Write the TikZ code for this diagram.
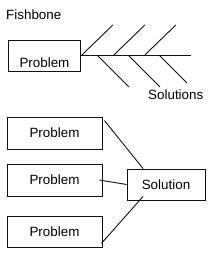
\documentclass[tikz,border=0pt]{standalone}
\usepackage{fontspec}
\setmainfont{Liberation Sans}
\usepackage{tikz}
\usetikzlibrary{calc}
\definecolor{BoneInk}{HTML}{111111}

\begin{document}
\begin{tikzpicture}[
    x=1pt, y=-1pt,
    font=\fontsize{13.4}{16}\selectfont,
    box/.style={
      draw=BoneInk,
      line width=0.9pt,
      inner sep=0pt,
      minimum width=95pt,
      minimum height=32pt,
    },
    bone/.style={
      draw=BoneInk,
      line width=0.9pt,
    },
  ]
    \useasboundingbox (0,0) rectangle (214,262);
    % fishbone
    \node[anchor=base west, inner sep=0pt] (title) at (6,20) {Fishbone};
    \node[
      draw=BoneInk, line width=0.9pt, inner sep=0pt,
      minimum width=72pt, text height=27pt, text depth=4pt,
      anchor=north west,
    ] (prob) at (8,40) {Problem};
    \draw[bone] (prob.east) -- ++(110,0) coordinate (tail);
    \foreach \dx in {0,32,63}
      \draw[bone] ([xshift=\dx pt]prob.east) -- ++(32,-31);
    \foreach \dx/\len in {17/31,48/31,79/27}
      \draw[bone] ([xshift=\dx pt]prob.east) -- ++(\len,\len);
    \node[anchor=base west, inner sep=0pt] (sols) at (148,99) {Solutions};

    % one solution, many problems
    \node[box] (p1) at (54.5,133) {Problem};
    \node[box] (p2) at (54.5,180) {Problem};
    \node[box, minimum height=31pt] (p3) at (54.5,231.5) {Problem};
    \node[box, minimum width=78pt, minimum height=31pt] (sol) at (166,184.5) {Solution};
    \draw[bone] ([shift={(2,4)}]p1.north east) -- ([xshift=-23pt]sol.north);
    \draw[bone] ([xshift=-3pt]p2.east) -- (sol.west);
    \draw[bone] ([shift={(-1,-4)}]p3.south east) -- ([shift={(-23,-4)}]sol.south);
  \end{tikzpicture}
\end{document}
